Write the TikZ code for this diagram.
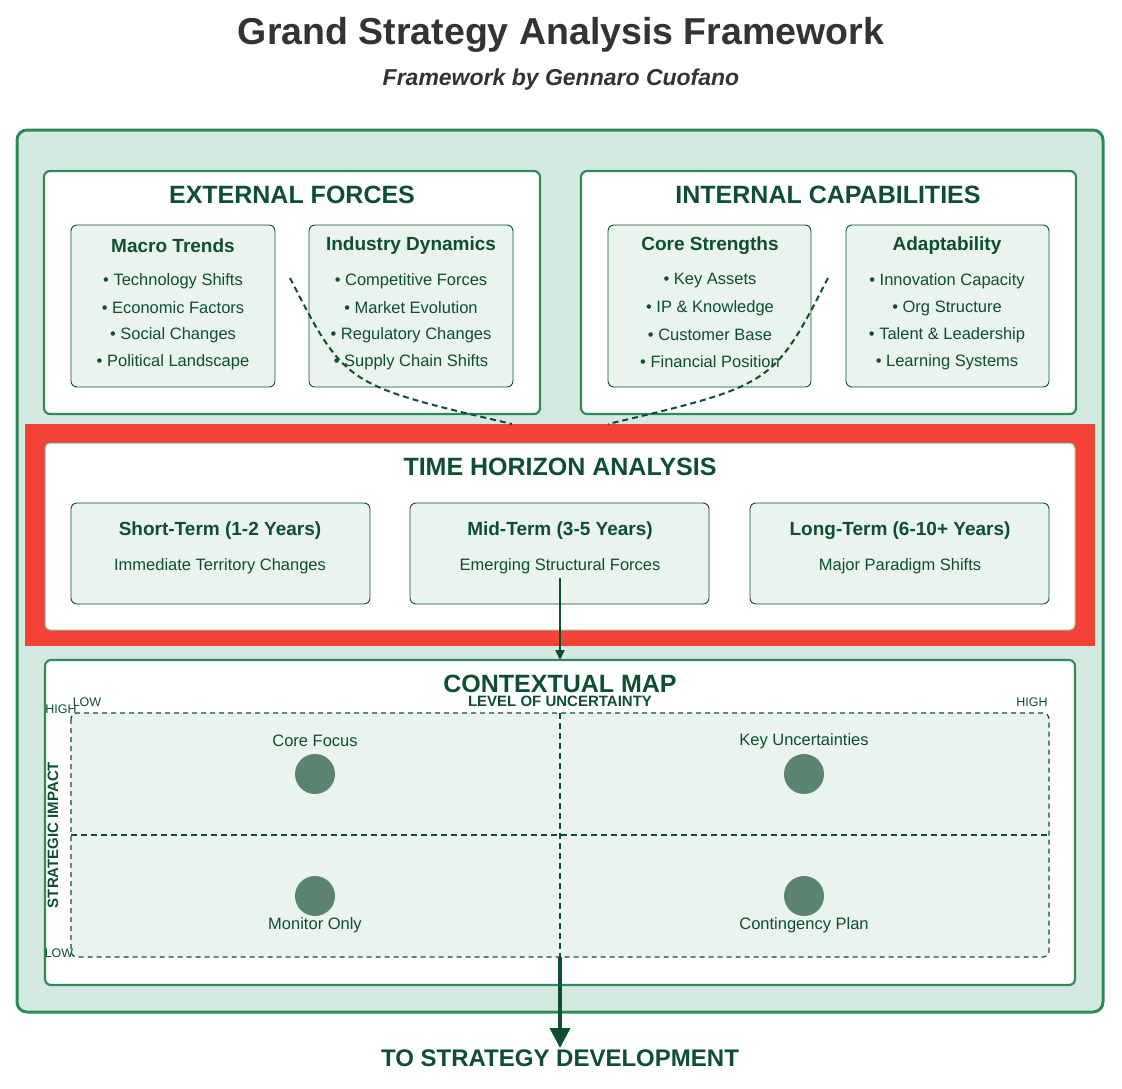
\documentclass[tikz,border=0pt]{standalone}
\usepackage{fontspec}
\setmainfont{Liberation Sans}
\usetikzlibrary{arrows.meta}
\definecolor{dg}{HTML}{0D4F30}
\definecolor{bg}{HTML}{2E8B57}
\definecolor{panel}{HTML}{D4EAE0}
\definecolor{sub}{HTML}{EAF3EE}
\definecolor{redb}{HTML}{F44336}
\definecolor{dot}{HTML}{5A8470}
\begin{document}
\begin{tikzpicture}[x=1pt,y=-1pt,
  sec/.style={draw=bg,line width=2.2pt,fill=white,rounded corners=6pt},
  card/.style={draw=dg,line width=0.9pt,fill=sub,rounded corners=6pt},
  sectitle/.style={text=dg,font=\bfseries\fontsize{25}{28}\selectfont},
  cardtitle/.style={text=dg,font=\bfseries\fontsize{19}{22}\selectfont},
  item/.style={text=dg,font=\fontsize{16.5}{19}\selectfont},
  small/.style={text=dg,font=\fontsize{12.5}{14}\selectfont},
  dsh/.style={draw=dg,line width=2pt,dash pattern=on 6pt off 4pt}]
\useasboundingbox (0,0) rectangle (1122,1088);
\fill[white] (0,0) rectangle (1122,1088);
\node[text=black!80,font=\bfseries\fontsize{37.5}{42}\selectfont] (title) at (561,35) {Grand Strategy Analysis Framework};
\node[text=black!80,font=\bfseries\itshape\fontsize{23}{26}\selectfont] (subt) at (561,80) {Framework by Gennaro Cuofano};
\draw[draw=bg,line width=3pt,fill=panel,rounded corners=10pt] (17,130) rectangle (1103,1012);
% external
\draw[sec] (44,171) rectangle (540,414);
\node[sectitle] (ext) at (292,195) {EXTERNAL FORCES};
\draw[card] (71,225) rectangle (275,387);
\node[cardtitle] (mt) at (173,246) {Macro Trends};
\node[item] at (173,281) {• Technology Shifts};
\node[item] at (173,308) {• Economic Factors};
\node[item] at (173,335) {• Social Changes};
\node[item] at (173,362) {• Political Landscape};
\draw[card] (309,225) rectangle (513,387);
\node[cardtitle] (id) at (411,246) {Industry Dynamics};
\node[item] at (411,281) {• Competitive Forces};
\node[item] at (411,308) {• Market Evolution};
\node[item] at (411,335) {• Regulatory Changes};
\node[item] at (411,362) {• Supply Chain Shifts};
% internal
\draw[sec] (581,171) rectangle (1076,414);
\node[sectitle] (int) at (828,195) {INTERNAL CAPABILITIES};
\draw[card] (608,225) rectangle (811,387);
\node[cardtitle] (cs) at (710,246) {Core Strengths};
\node[item] at (710,281) {• Key Assets};
\node[item] at (710,308) {• IP \& Knowledge};
\node[item] at (710,335) {• Customer Base};
\node[item] at (710,362) {• Financial Position};
\draw[card] (846,225) rectangle (1049,387);
\node[cardtitle] (ad) at (947,246) {Adaptability};
\node[item] at (947,281) {• Innovation Capacity};
\node[item] at (947,308) {• Org Structure};
\node[item] at (947,335) {• Talent \& Leadership};
\node[item] at (947,362) {• Learning Systems};
% red band
\fill[redb] (25,424) rectangle (1095,646);
\draw[draw=bg!60,line width=1pt,fill=white,rounded corners=5pt] (45,443) rectangle (1075,630);
\node[sectitle] (th) at (560,467) {TIME HORIZON ANALYSIS};
\draw[card] (71,503) rectangle (370,604);
\node[cardtitle] at (220,531) {Short-Term (1-2 Years)};
\node[item] at (220,566) {Immediate Territory Changes};
\draw[card] (410,503) rectangle (709,604);
\node[cardtitle] at (560,531) {Mid-Term (3-5 Years)};
\node[item] at (560,566) {Emerging Structural Forces};
\coordinate (midb) at (560,578);
\draw[card] (750,503) rectangle (1049,604);
\node[cardtitle] at (900,531) {Long-Term (6-10+ Years)};
\node[item] at (900,566) {Major Paradigm Shifts};
% dashed curves
\coordinate (c1s) at (290,278); \coordinate (c1e) at (512,424);
\coordinate (c2s) at (828,278); \coordinate (c2e) at (608,424);
\draw[dsh] (c1s) .. controls (345,385) .. (c1e);
\draw[dsh] (c2s) .. controls (773,385) .. (c2e);
% contextual map
\draw[sec] (45,660) rectangle (1075,985);
\coordinate (mapt) at (560,660);
\draw[dg,line width=2pt,-{Triangle[length=10pt,width=9pt]}] (midb) -- (mapt);
\draw[dsh,line width=1.2pt,dash pattern=on 5pt off 4pt,fill=sub,rounded corners=6pt] (71,713) rectangle (1049,957);
\draw[dsh] (71,835) -- (1049,835);
\draw[dsh] (560,713) -- (560,957);
\node[sectitle] (cm) at (560,684) {CONTEXTUAL MAP};
\node[text=dg,font=\bfseries\fontsize{15}{17}\selectfont] (lu) at (560,701) {LEVEL OF UNCERTAINTY};
\node[small] at (87,702) {LOW};
\node[small] at (1032,702) {HIGH};
\node[small] at (61,709) {HIGH};
\node[small] at (59,953) {LOW};
\node[text=dg,rotate=90,font=\bfseries\fontsize{15}{17}\selectfont] (si) at (53,835) {STRATEGIC IMPACT};
\foreach \x/\y in {315/774,804/774,315/896,804/896}
  \fill[dot] (\x,\y) circle (20);
\node[item] at (315,741) {Core Focus};
\node[item] at (804,741) {Key Uncertainties};
\node[item] at (315,925) {Monitor Only};
\node[item] at (804,925) {Contingency Plan};
\coordinate (ast) at (560,957); \coordinate (aen) at (560,1048);
\draw[dg,line width=3.5pt,-{Triangle[length=20pt,width=20pt]}] (ast) -- (aen);
\node[text=dg,font=\bfseries\fontsize{24}{27}\selectfont] (out) at (560,1058) {TO STRATEGY DEVELOPMENT};
\end{tikzpicture}
\end{document}
